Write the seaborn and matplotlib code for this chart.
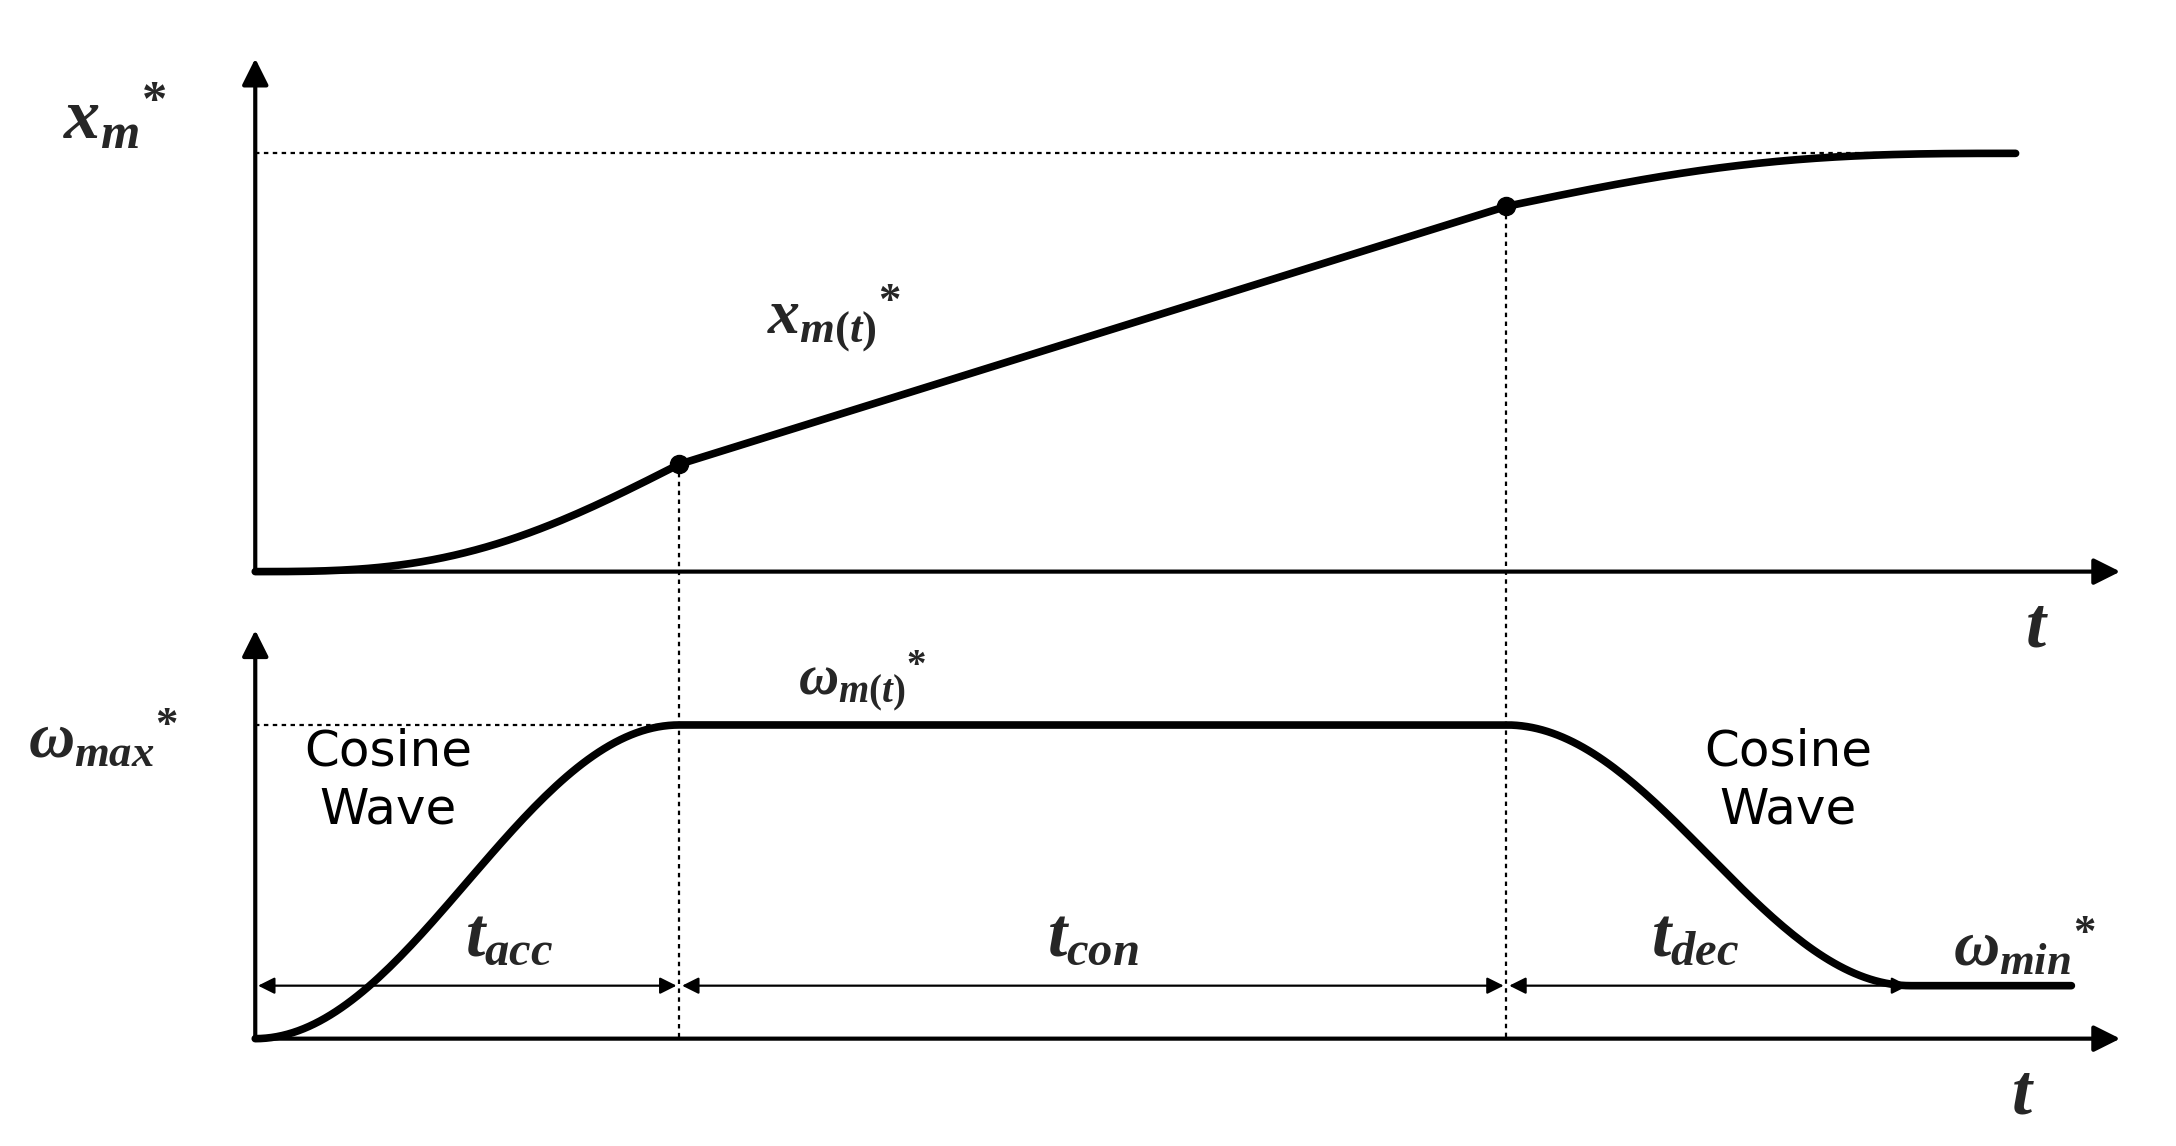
import numpy as np
import pandas as pd
import matplotlib
matplotlib.use("Agg")
import matplotlib.pyplot as plt
import seaborn as sns

# Key phase boundaries (diagram time units, drawn on a pixel-like canvas)
phase_times = [183, 487, 1080, 1370, 1485]   # start, end acc, end con, end dec, end
omega_levels = {"zero": 745, "max": 520, "min": 707}
pos_points = {"start": 410, "acc_end": 333, "con_end": 148, "final": 110}
pos_final_t = 1445
phase_labels = ["$t_{acc}$", "$t_{con}$", "$t_{dec}$"]

sns.set_style("white")
plt.rcParams["mathtext.fontset"] = "custom"
plt.rcParams["mathtext.it"] = "Liberation Serif:bold:italic"
plt.rcParams["mathtext.rm"] = "Liberation Serif:bold"

fig = plt.figure(figsize=(21.76, 11.46), dpi=100)
ax = fig.add_axes([0, 0, 1, 1])
ax.set_xlim(0, 1560)
ax.set_ylim(822, 0)
ax.axis("off")

t0, t1, t2, t3, t4 = phase_times
w0, wmax, wmin = omega_levels["zero"], omega_levels["max"], omega_levels["min"]

ta = np.linspace(t0, t1, 80)
ua = (ta - t0) / (t1 - t0)
wa = w0 + (wmax - w0) * (1 - np.cos(np.pi * ua)) / 2
td = np.linspace(t2, t3, 80)
ud = (td - t2) / (t3 - t2)
wd = wmax + (wmin - wmax) * (1 - np.cos(np.pi * ud)) / 2
vel = pd.DataFrame({"t": np.concatenate([ta, [t1, t2], td, [t3, t4]]),
                    "w": np.concatenate([wa, [wmax, wmax], wd, [wmin, wmin]])})
sns.lineplot(data=vel, x="t", y="w", ax=ax, color="k", lw=5.5, sort=False, estimator=None)

p0, pa, pc, pf = pos_points["start"], pos_points["acc_end"], pos_points["con_end"], pos_points["final"]
g = (ua - np.sin(np.pi * ua) / np.pi)
xa = p0 + (pa - p0) * g
te = np.linspace(t2, pos_final_t, 80)
ue = (te - t2) / (pos_final_t - t2)
h = ue - (ue - np.sin(np.pi * ue) / np.pi) / 2
h = h / h[-1]
xe = pc + (pf - pc) * h
pos = pd.DataFrame({"t": np.concatenate([ta, [t2], te]),
                    "x": np.concatenate([xa, [pc], xe])})
sns.lineplot(data=pos, x="t", y="x", ax=ax, color="k", lw=5.5, sort=False, estimator=None)
ax.plot([t1, t2], [pa, pc], "ko", ms=13)

arrow = dict(arrowstyle="-|>", lw=3, mutation_scale=40, color="k")
for (xs, ys, xe_, ye_) in [(183, 410, 183, 40), (183, 410, 1522, 410),
                           (183, 745, 183, 450), (183, 745, 1522, 745)]:
    ax.annotate("", xy=(xe_, ye_), xytext=(xs, ys), arrowprops=arrow)

dots = dict(color="k", ls=(0, (2, 2)), lw=1.6)
ax.plot([183, pos_final_t], [pf, pf], **dots)
ax.plot([183, t1], [wmax, wmax], **dots)
for tt, yy in [(t1, pa), (t2, pc)]:
    ax.plot([tt, tt], [yy, 745], **dots)

ya = 707
offs = [30, 0, -10]
for (a, b), lab, o in zip([(t0, t1), (t1, t2), (t2, t3)], phase_labels, offs):
    ax.annotate("", xy=(a, ya), xytext=(b, ya),
                arrowprops=dict(arrowstyle="<|-|>", lw=1.6, mutation_scale=25, color="k"))
    ax.text((a + b) / 2 + o, ya - 12, lab, fontsize=50, ha="center", va="bottom")

ax.text(45, 85, r"$x_m{}^{*}$", fontsize=52, ha="left", va="center")
ax.text(550, 228, r"$x_{m(t)}{}^{*}$", fontsize=46, ha="left", va="center")
ax.text(20, 530, r"$\omega_{max}{}^{*}$", fontsize=46, ha="left", va="center")
ax.text(572, 488, r"$\omega_{m(t)}{}^{*}$", fontsize=40, ha="left", va="center")
ax.text(1400, 680, r"$\omega_{min}{}^{*}$", fontsize=46, ha="left", va="center")
ax.text(1452, 450, "$t$", fontsize=52, ha="left", va="center")
ax.text(1442, 785, "$t$", fontsize=52, ha="left", va="center")
for x in (278, 1282):
    ax.text(x, 560, "Cosine\nWave", fontsize=36, ha="center", va="center",
            family="DejaVu Sans", color="k", linespacing=1.25)

fig.savefig("out.png", dpi=100, facecolor="white")
